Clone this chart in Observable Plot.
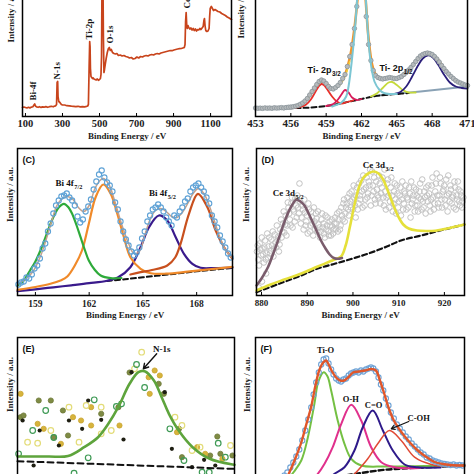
<!DOCTYPE html>
<html>
<head>
<meta charset="utf-8">
<script src="https://cdn.jsdelivr.net/npm/d3@7"></script>
<script src="https://cdn.jsdelivr.net/npm/@observablehq/plot@0.6"></script>
<style>
  html, body { margin: 0; padding: 0; background: #fff; }
  #fig { position: relative; width: 474px; height: 474px; overflow: hidden; background: #fff; }
  #fig svg { position: absolute; overflow: visible; }
</style>
</head>
<body>
<div id="fig"></div>
<script>
// ---------- (A) survey spectrum ----------
const surveyTicks = [100, 300, 500, 700, 900, 1100];
const surveySpectrum = [
  [84,9],[92,9.5],[100,9],[108,8.5],[116,9.2],[124,8.6],[132,9.4],[140,9.8],[146,11.5],[150,12.5],[154,10.5],
  [160,9.6],[168,9.2],[176,9.8],[184,9.1],[192,9.6],[200,9.3],[210,9.9],[220,9.2],[230,9.8],[240,10.2],[250,9.7],
  [258,10.4],[262,10.5],[268,12],[271,34],[274,35],[276,20],[280,15],[286,14],[294,12],[300,11.5],[312,11.5],
  [324,10.8],[336,10.6],[348,10.3],[360,10.1],[372,9.8],[384,10.2],[396,9.6],[408,9.9],[420,9.7],[430,10.1],
  [436,10.5],[440,12],[444,50],[447,75],[449,70],[451,48],[454,40],[458,39],[462,38],[466,38.5],[470,37.5],
  [476,37],[482,36.5],[488,37.5],[494,36.2],[500,37],[505,38],[508,42],[511,60],[514,150],[518,150],[521,80],
  [524,44],[527,47],[531,52],[536,58],[542,64],[548,68],[553,69],[558,66],[564,67],[570,64],[578,63],[586,62.5],
  [594,63],[602,61],[612,61.5],[622,60.5],[632,61],[642,60],[652,59.5],[662,58.5],[672,59],[682,57.5],[692,58],
  [702,59.5],[712,58.5],[722,60],[732,59.5],[742,60.5],[752,61],[762,60.5],[772,61.5],[782,62],[792,61.5],
  [802,62.5],[812,63],[822,62.5],[832,63.5],[842,64],[852,64.5],[862,65],[872,65.5],[882,66],[892,65.8],
  [902,66.5],[912,67],[922,67.5],[932,67.8],[942,68],[950,68.5],[958,69],[962,72],[965,95],[968,104],[971,92],
  [974,88],[978,91],[982,89],[988,87.5],[994,88.5],[1000,86.5],[1006,88],[1012,86],[1018,87.5],[1024,85.5],
  [1030,87],[1036,86.5],[1042,88],[1048,87],[1054,88.5],[1060,90],[1064,96],[1067,98],[1070,91],[1074,86],
  [1080,85],[1086,85.5],[1092,88],[1095,100],[1098,108],[1104,110],[1110,108],[1116,106],[1124,107],[1132,106],
  [1140,105],[1150,104.5],[1160,103],[1170,102],[1180,101],[1190,99.5],[1200,98.5],[1213,97]
];
const surveyPeakLabels = [[143,16,"Bi-4f"],[273,37,"N-1s"],[446,77,"Ti-2p"],[559,73,"O-1s"],[973,108,"Ce-3d"]];

// ---------- (B) Ti 2p ----------
const tiTicks = [453, 456, 459, 462, 465, 468, 471];
const tiPoints = [
  [453.0,8.5],[453.2,8.2],[453.4,8.4],[453.6,8.1],[453.8,8.6],[454.0,8.3],[454.2,8.5],[454.4,8.2],[454.6,8.7],
  [454.8,8.4],[455.0,8.6],[455.2,8.9],[455.4,8.5],[455.6,9.0],[455.8,9.3],[456.0,9.5],[456.2,9.8],[456.4,10.3],
  [456.6,11],[456.8,12.2],[457.0,13.5],[457.2,15.5],[457.4,18],[457.6,21.5],[457.8,25],[458.0,28.5],[458.2,32],
  [458.4,35],[458.6,36.5],[458.8,35.5],[459.0,33],[459.2,30],[459.4,28],[459.6,27.5],[459.8,29],[460.0,31],
  [460.2,34],[460.4,38],[460.6,42],[460.8,50],[461.0,60],[461.2,72],[461.4,88],[461.6,110],[461.8,135],
  [462.0,160],[462.2,140],[462.4,100],[462.6,72],[462.8,56],[463.0,46],[463.2,41],[463.4,39],[463.6,38],
  [463.8,37.5],[464.0,38],[464.2,38.5],[464.4,39],[464.6,38.5],[464.8,38],[465.0,38],[465.2,39],[465.4,40],
  [465.6,42],[465.8,44],[466.0,46.5],[466.2,49],[466.4,52],[466.6,55],[466.8,58],[467.0,60.5],[467.2,62],
  [467.4,63],[467.6,63.5],[467.8,63],[468.0,62],[468.2,60],[468.4,57.5],[468.6,54.5],[468.8,51],[469.0,48],
  [469.2,45],[469.4,42.5],[469.6,40],[469.8,38],[470.0,36],[470.2,34.5],[470.4,33.5],[470.6,32.5],[470.8,31.5],[471.0,31]
];
const tiEnvelope = [
  [453,8.4],[454,8.4],[455,8.7],[456,9.4],[456.6,11],[457,13.5],[457.4,18],[457.8,25],[458.2,32],[458.5,35.5],
  [458.7,36],[459,33.5],[459.3,29.5],[459.6,28],[459.9,29.5],[460.2,33.5],[460.5,39],[460.8,49],[461.1,64],
  [461.4,88],[461.7,122],[462,160],[462.3,125],[462.6,78],[462.9,52],[463.2,42],[463.5,39],[463.8,38],
  [464.2,38.5],[464.6,39],[465,38.5],[465.4,40],[465.8,43.5],[466.2,49],[466.6,55],[467,60],[467.4,62.5],
  [467.7,63],[468,62],[468.4,58],[468.8,51.5],[469.2,45],[469.6,40],[470,36],[470.5,33],[471,31]
];
const tiEnvelopeInner = [
  [456.5,9.5],[457,12],[457.5,18],[458,27],[458.4,33],[458.7,34.5],[459,32],[459.4,28.5],[459.8,28.5],
  [460.2,32],[460.6,40],[461,55]
];
const tiMainPeak = [
  [459.5,10],[460.3,14],[460.7,20],[460.9,30],[461.2,58],[461.45,88],[461.7,130],[461.9,160],[462.05,172],
  [462.2,155],[462.45,100],[462.7,62],[462.9,45],[463.1,35],[463.5,27],[463.9,23.5],[464.5,22.5],[465,22.5]
];
const ti2p32 = [
  [456,8.3],[456.8,9.5],[457.3,12],[457.7,17],[458.1,25],[458.4,30.5],[458.6,32.5],[458.8,31.5],[459.1,27],
  [459.5,20],[459.9,15],[460.3,13],[460.8,14.5],[461.3,16]
];
const tiSatellite = [[459,10.5],[459.6,12.5],[460,17],[460.3,22],[460.6,26.5],[460.9,24],[461.2,19],[461.6,16.5],[462,17.5]];
const ti2p12 = [[462.8,20],[463.3,23],[463.8,28.5],[464.3,34],[464.6,34.5],[465,31.5],[465.5,26.5],[466,24],[466.6,24]];
const tiHighPeak = [
  [464.8,22.5],[465.3,24.5],[465.8,30],[466.3,40],[466.8,51],[467.2,58],[467.6,61],[468,59.5],[468.5,52],
  [469,42],[469.5,34],[470,30],[470.5,28.5],[471,28]
];
const tiBaseline = [[453,8],[455,8.2],[457,8.6],[458,9.2],[459,10.5],[460,12.5],[461,15],[462,17.5],[463,20],[464,21.5],[465,22.5],[466,23.5]];
const tiBackground = [[463,20.5],[465,22.8],[467,25],[469,27.5],[471,30]];
const tiLabels = [[457.42,46,"Ti- 2p","3/2"],[463.53,48,"Ti- 2p","1/2"]];

// ---------- (C) Bi 4f ----------
const biTicks = [159, 162, 165, 168];
const biPoints = [
  [158.05,11],[158.2,13],[158.35,14],[158.5,18],[158.65,17],[158.8,21],[158.95,27],[159.1,30],[159.25,37],
  [159.4,47],[159.55,52],[159.7,64],[159.85,72],[160.0,82],[160.15,90],[160.3,95],[160.45,99],[160.6,100],
  [160.75,102],[160.9,98],[161.05,95],[161.2,90],[161.35,79],[161.5,73],[161.65,76],[161.8,84],[161.95,89],
  [162.1,96],[162.25,106],[162.4,114],[162.55,121],[162.7,125],[162.85,118],[163.0,113],[163.15,110],
  [163.3,104],[163.45,93],[163.6,86],[163.75,74],[163.9,64],[164.05,56],[164.2,50],[164.35,44],[164.5,40],
  [164.65,43],[164.8,48],[164.95,57],[165.1,64],[165.25,74],[165.4,80],[165.55,86],[165.7,88],[165.85,91],
  [166.0,88],[166.15,84],[166.3,78],[166.45,74],[166.6,70],[166.75,80],[166.9,78],[167.05,84],[167.2,88],
  [167.35,94],[167.5,97],[167.65,104],[167.8,108],[167.95,110],[168.1,112],[168.25,108],[168.4,104],
  [168.55,98],[168.7,92],[168.85,80],[169.0,74],[169.15,68],[169.3,60],[169.45,54],[169.6,48],[169.75,42],[169.9,38]
];
const biEnvelope = [
  [158,12],[158.5,17],[158.9,25],[159.3,40],[159.6,56],[159.9,74],[160.2,90],[160.5,97],[160.8,99],[161.1,96],
  [161.4,88],[161.7,84],[162,90],[162.3,106],[162.6,115],[162.8,117],[163.1,111],[163.4,96],[163.8,72],
  [164.2,52],[164.5,42],[164.8,44],[165.1,60],[165.4,76],[165.7,85],[166,87],[166.3,84],[166.6,79],[166.9,78],
  [167.2,83],[167.5,92],[167.8,102],[168.1,107],[168.4,102],[168.7,90],[169,74],[169.3,58],[169.6,46],[170,37]
];
const bi4f72a = [
  [158,10],[158.35,15],[158.7,25],[159,34],[159.28,45],[159.6,60],[159.84,71.7],[160.1,82],[160.31,88.3],
  [160.59,91.7],[160.85,88],[161.05,81.7],[161.3,70],[161.52,58.3],[161.75,46],[161.98,35],[162.3,26],
  [162.64,20],[163.2,17.3],[163.8,17.5]
];
const bi4f72b = [
  [158,5.7],[159,8.5],[159.84,11.7],[160.4,15],[160.78,19],[161.2,30],[161.6,45],[161.98,71.7],[162.36,98.3],
  [162.79,111],[163.2,101.7],[163.57,81.7],[163.94,58.3],[164.3,38.3],[164.87,26.7],[165.43,22.3],[166.3,21.8],
  [167.5,23.8],[168.7,26.2],[170,28.6]
];
const bi4f52a = [
  [158,4.3],[159,6.2],[160,8.2],[161,10.2],[162,12.3],[163,14.8],[163.6,18],[164.3,28.3],[164.87,48.3],
  [165.34,68.3],[165.89,80],[166.36,75],[166.83,58.3],[167.29,41.7],[167.76,31.7],[168.22,27.7],[169,27.5],[170,28]
];
const bi4f52b = [
  [164.3,21],[164.87,23.3],[165.5,25.5],[166.36,30],[166.8,38],[167.1,51.7],[167.57,81.7],[168.07,101.7],
  [168.6,88.3],[169.06,65],[169.53,48.3],[170,36.7]
];
const biBaseline = [[163,14.6],[164,16.3],[165,18.2],[166,20.2],[167,22.2],[168,24.2],[169,26],[170,27.6]];
const biLabels = [[160.12,112,"Bi 4f","7/2"],[165.34,102,"Bi 4f","5/2"]];

// ---------- (D) Ce 3d ----------
const ceTicks = [880, 890, 900, 910, 920];
const cePoints = [
  [879.0,44],[879.3,36],[879.6,52],[879.9,40],[880.2,47],[880.5,33],[880.8,55],[881.1,42],[881.4,38],[881.7,58],
  [882.0,45],[882.3,50],[882.6,39],[882.9,61],[883.2,48],[883.5,55],[883.8,44],[884.1,66],[884.4,58],[884.7,72],
  [885.0,63],[885.3,80],[885.6,70],[885.9,88],[886.2,76],[886.5,92],[886.8,68],[887.1,84],[887.4,97],[887.7,78],
  [888.0,88],[888.3,112],[888.6,72],[888.9,90],[889.2,66],[889.5,83],[889.8,74],[890.1,62],[890.4,86],[890.7,70],
  [891.0,78],[891.3,60],[891.6,74],[891.9,82],[892.2,64],[892.5,71],[892.8,58],[893.1,76],[893.4,68],[893.7,62],
  [894.0,80],[894.3,70],[894.6,64],[894.9,74],[895.2,60],[895.5,69],[895.8,66],[896.1,78],[896.4,72],[896.7,64],
  [897.0,84],[897.3,70],[897.6,80],[897.9,92],[898.2,74],[898.5,88],[898.8,98],[899.1,80],[899.4,94],[899.7,104],
  [900.0,86],[900.3,98],[900.6,78],[900.9,108],[901.2,92],[901.5,100],[901.8,115],[902.1,88],[902.4,106],[902.7,96],
  [903.0,118],[903.3,102],[903.6,110],[903.9,90],[904.2,124],[904.5,104],[904.8,96],[905.1,114],[905.4,100],[905.7,120],
  [906.0,92],[906.3,108],[906.6,98],[906.9,126],[907.2,86],[907.5,112],[907.8,100],[908.1,94],[908.4,118],[908.7,84],
  [909.0,104],[909.3,96],[909.6,110],[909.9,88],[910.2,100],[910.5,80],[910.8,114],[911.1,92],[911.4,102],[911.7,86],
  [912.0,96],[912.3,108],[912.6,78],[912.9,92],[913.2,100],[913.5,84],[913.8,106],[914.1,90],[914.4,98],[914.7,112],
  [915.0,86],[915.3,94],[915.6,104],[915.9,82],[916.2,100],[916.5,110],[916.8,90],[917.1,96],[917.4,118],[917.7,86],
  [918.0,104],[918.3,122],[918.6,92],[918.9,100],[919.2,112],[919.5,88],[919.8,106],[920.1,96],[920.4,116],[920.7,84],
  [921.0,102],[921.3,110],[921.6,92],[921.9,100],[922.2,114],[922.5,86],[922.8,96],[923.1,106],[923.4,90],[923.7,100],[924.0,94]
];
const cePointsRepeat = [
  [879.15,50],[879.45,30],[879.75,46],[880.05,58],[880.35,41],[880.65,48],[880.95,36],[881.25,62],[881.55,49],[881.85,42],
  [882.15,56],[882.45,64],[882.75,47],[883.05,53],[883.35,70],[883.65,59],[883.95,51],[884.25,76],[884.55,64],[884.85,84],
  [885.15,71],[885.45,60],[885.75,93],[886.05,82],[886.35,70],[886.65,98],[886.95,86],[887.25,74],[887.55,90],[887.85,100],
  [888.15,82],[888.45,94],[888.75,78],[889.05,86],[889.35,96],[889.65,70],[889.95,80],[890.25,92],[890.55,64],[890.85,84],
  [891.15,72],[891.45,88],[891.75,66],[892.05,77],[892.35,84],[892.65,68],[892.95,64],[893.25,82],[893.55,72],[893.85,58],
  [894.15,66],[894.45,78],[894.75,60],[895.05,70],[895.35,76],[895.65,62],[895.95,72],[896.25,66],[896.55,82],[896.85,76],
  [897.15,66],[897.45,88],[897.75,76],[898.05,96],[898.35,82],[898.65,92],[898.95,86],[899.25,102],[899.55,88],[899.85,96],
  [900.15,110],[900.45,90],[900.75,100],[901.05,86],[901.35,112],[901.65,96],[901.95,104],[902.25,120],[902.55,90],[902.85,108],
  [903.15,98],[903.45,114],[903.75,126],[904.05,100],[904.35,110],[904.65,118],[904.95,92],[905.25,106],[905.55,98],[905.85,112],
  [906.15,102],[906.45,118],[906.75,90],[907.05,104],[907.35,98],[907.65,116],[907.95,88],[908.25,108],[908.55,100],[908.85,92],
  [909.15,112],[909.45,82],[909.75,102],[910.05,94],[910.35,108],[910.65,96],[910.95,86],[911.25,104],[911.55,110],[911.85,98],
  [912.15,88],[912.45,102],[912.75,114],[913.05,96],[913.35,108],[913.65,90],[913.95,100],[914.25,84],[914.55,104],[914.85,96],
  [915.15,116],[915.45,88],[915.75,98],[916.05,108],[916.35,94],[916.65,102],[916.95,84],[917.25,110],[917.55,98],[917.85,92],
  [918.15,112],[918.45,100],[918.75,88],[919.05,118],[919.35,96],[919.65,104],[919.95,110],[920.25,90],[920.55,100],[920.85,120],
  [921.15,94],[921.45,106],[921.75,98],[922.05,88],[922.35,108],[922.65,100],[922.95,114],[923.25,94],[923.55,104],[923.85,88],[924.15,98],
  [879.4,8],[880.1,14],[881.0,22]
];
const ce3d32 = [
  [878.9,5],[882,11],[885,16],[888.7,22],[892.3,29],[895.5,35],[897.4,39],[898.4,50],[899.3,68],[900.3,90],
  [901.3,108],[902.3,118],[903.5,122.5],[904.6,124],[905.6,122],[906.6,116],[907.6,105],[908.7,92],[909.8,80],
  [911,71],[912.2,67],[914,65],[916,64.5],[918,64.8],[920,66.5],[922,68.5],[924.4,71]
];
const ce3d52 = [
  [878.9,10],[880,17],[881.4,28.3],[882.5,41],[883.6,55],[884.5,67],[885.4,78.3],[886.5,89],[887.6,95.7],
  [888.5,94],[889.4,90],[890.3,82],[891.2,73.3],[892.1,64],[893,55],[894,47],[894.9,41],[895.8,37.5],[896.7,36.7],[897.6,37.5]
];
const ceBaseline = [[878.9,3.3],[884,12],[888.7,20],[892,26.5],[896,31.7],[899.6,36.5],[903.2,41.7],[906.9,48],[910.5,55],[914.9,60],[919.5,65.5],[924.4,71]];
const ceLabels = [[882.47,102,"Ce 3d","5/2"],[902.15,130,"Ce 3d","3/2"]];

// ---------- (E) N 1s ----------
const nHollowGreen = [
  [393.07,22.7],[393.98,46],[394.82,66],[395.34,39],[397.56,18.7],[396.65,3.3],[397.95,76.7],[399.38,70],
  [399.71,72.7],[400.68,112],[401.2,89],[402.83,47.7],[403.74,16],[404.91,4.3],[405.37,4.3],[405.95,33.3],[406.41,19.3]
];
const nHollowYellow = [
  [393.65,34.3],[394.3,33.3],[395.15,46],[396.32,69.3],[396.97,34.3],[397.43,71],[398.4,42.7],[398.4,69.3],
  [399.05,46],[400.55,107.7],[401.01,124.3],[403.16,59.3],[403.61,51],[404.26,26],[404.78,29.3],[406.74,31]
];
const nOlive = [
  [393.2,59.3],[393.39,61],[394.37,76],[395.15,76],[395.93,66],[395.34,39.3],[396.26,41],[398.4,62.7],
  [399.51,69.3],[400.23,104],[402.11,92.7],[402.44,82.7],[403.42,47.7],[403.61,19.3],[405.43,21],[405.89,40],[406.09,22.7],[406.87,21]
];
const nGold = [
  [393.2,82.7],[394.3,52.7],[394.69,47.7],[395.8,32.7],[396.58,59.3],[397.1,56],[397.75,69.3],[397.75,51],
  [399.58,51],[401.46,99.3],[401.53,82.7],[401.85,106],[402.18,101],[403.29,44.3],[404.59,29.3],[405.11,22.7],[406.22,17.7]
];
const nBlack = [
  [393.33,56],[394.04,11],[394.43,46],[395.67,31],[396.32,56],[397.17,47.7],[397.56,76],[398.4,56.7],
  [399.84,37],[400.36,104.3],[402.5,84.3],[402.96,27.7],[404.26,9.3],[405.04,16.7],[405.76,11]
];
const nFit = [
  [393,20],[395,20],[396.26,20.5],[397.3,29.3],[398.2,39.3],[398.86,52.7],[399.5,69.3],[400.23,92.7],
  [400.8,104.3],[401.2,105.3],[401.8,96],[402.3,79.3],[402.77,62.7],[403.4,46],[404.3,29.3],[405.4,17.7],[406.9,12],[407,11.8]
];
const nBaseline = [[393,15.3],[400,11.5],[407,7.6]];
const nLabel = [[402.31,127.5,"N-1s"]];
const nArrow = [{x1: 401.98, y1: 122.7, x2: 401.12, y2: 107.7}];

// ---------- (F) O 1s ----------
const oPoints = [
  [527.95,1],[528.1,4],[528.25,9],[528.4,14],[528.55,20],[528.7,27],[528.85,36],[529.0,46],[529.15,57],[529.3,69],
  [529.42,82],[529.55,94],[529.68,104],[529.8,112],[529.92,117],[530.05,118],[530.17,113],[530.3,107],[530.42,102],
  [530.55,98],[530.68,96],[530.8,95],[530.92,97],[531.05,98],[531.18,101],[531.3,103],[531.42,104],[531.55,105],
  [531.68,104],[531.8,106],[531.92,105],[532.05,107],[532.18,108],[532.3,109],[532.42,108],[532.55,105],[532.68,99],
  [532.8,92],[532.92,86],[533.05,78],[533.18,71],[533.3,64],[533.45,58],[533.6,52],[533.75,48],[533.9,44],[534.05,40],
  [534.2,37],[534.35,33],[534.5,30],[534.65,27],[534.8,24],[534.95,22],[535.1,19],[535.25,18],[535.4,16],[535.55,15],
  [535.7,14],[535.85,13],[536.0,12.5],[536.15,12],[536.3,11.5],[536.45,12],[536.6,11],[536.75,11.5],[536.9,11]
];
const oEnvelope = [
  [527.9,-8],[528.2,4],[528.5,18],[528.8,34],[529.05,52],[529.3,70],[529.5,90],[529.7,106],[529.9,114],[530.05,116],
  [530.2,111],[530.35,105],[530.55,99],[530.75,96],[530.95,96],[531.2,100],[531.4,104],[531.7,105],[532,106],
  [532.3,107.5],[532.55,106],[532.75,96],[532.95,84],[533.2,68],[533.45,56],[533.7,48],[534,40],[534.3,33],
  [534.6,27],[534.9,22],[535.2,18],[535.5,14.5],[535.9,12.5],[536.3,11.5],[537,11]
];
const oTiO = [
  [528,-6],[528.4,4],[528.8,16],[529.13,39],[529.46,72.7],[529.66,95],[529.93,104.3],[530.12,100],[530.3,86],
  [530.63,56],[530.97,32.7],[531.31,17.7],[531.81,11],[532.98,10],[535,10.5],[537,11]
];
const oOH = [
  [529.3,-4],[529.63,2.7],[529.97,12.7],[530.38,29.3],[530.81,52.7],[531.31,71.7],[531.81,56],[532.31,29.3],
  [532.82,14.3],[533.48,9.3],[534.79,8.5]
];
const oCO = [
  [530.1,-4],[530.47,2.7],[530.97,9.3],[531.47,26],[531.89,49.3],[532.39,66],[532.9,46],[533.4,26],[533.99,12],
  [534.65,9.3],[535.8,9]
];
const oCOH = [
  [531.2,-3],[531.64,6],[532.14,17.7],[532.64,32.7],[533.23,46],[533.82,36],[534.49,19.3],[535.33,12],[536.16,10],[537,10.5]
];
const oBaseline = [[529.5,-3],[531.31,2],[532.98,6.7],[534.65,8.7],[537,11]];
const oLabels = [[530.02,126,"Ti-O"],[531.29,77,"O-H"],[532.43,71,"C=O"]];
const oSideLabel = [[534.14,58,"C-OH"]];
const oArrow = [{x1: 534.2, y1: 55, x2: 533.32, y2: 47.7}];

// ---------- drawing ----------
const fig = document.getElementById("fig");
const SERIF = "Liberation Serif";
const SANS = "Liberation Sans";
const ctx = document.createElement("canvas").getContext("2d");
function measure(s, size, family) {
  ctx.font = `bold ${size}px "${family}"`;
  return ctx.measureText(s).width;
}
const X = d => d[0], Y = d => d[1];

function curve(data, stroke, strokeWidth = 2, extra = {}) {
  return Plot.line(data, {x: X, y: Y, stroke, strokeWidth, curve: "catmull-rom", ...extra});
}
function dashed(data, strokeWidth = 2) {
  return Plot.line(data, {x: X, y: Y, stroke: "#111", strokeWidth, strokeDasharray: "5,3", curve: "catmull-rom"});
}
function subLabels(rows, family, size) {
  return rows.flatMap(r => [
    Plot.text([r], {x: X, y: Y, text: d => d[2], textAnchor: "start", fontFamily: family, fontWeight: "bold", fontSize: size, fill: "#111"}),
    Plot.text([r], {x: X, y: Y, text: d => d[3], textAnchor: "start", fontFamily: family, fontWeight: "bold",
      fontSize: size * 0.7, fill: "#111", dx: measure(r[2], size, family) + 0.5, dy: size * 0.35})
  ]);
}
function plainLabels(rows, family, size, extra = {}) {
  return Plot.text(rows, {x: X, y: Y, text: d => d[2], fontFamily: family, fontWeight: "bold", fontSize: size, fill: "#111", ...extra});
}

function panel({box, xDomain, yDomain, ticks, tickFont, tickDy, letter, yLabelDx, marks}) {
  const [L, T, R, B] = box;
  const mL = 30, mR = 10, mT = 6, mB = 34;
  const h = B - T;
  const deco = [Plot.frame({stroke: "#000", strokeWidth: 1.5})];
  if (ticks) {
    deco.push(
      Plot.tickX(ticks, {x: d => d, insetTop: h - 3, stroke: "#000", strokeWidth: 1}),
      Plot.text(ticks, {x: d => d, text: d => String(d), frameAnchor: "bottom", dy: tickDy,
        fontFamily: SERIF, fontWeight: "bold", fontSize: tickFont, fill: "#222"}),
      Plot.text(["Binding Energy / eV"], {text: d => d, frameAnchor: "bottom", dy: 22,
        fontFamily: SERIF, fontWeight: "bold", fontSize: 9, fill: "#222"})
    );
  }
  if (letter) {
    deco.push(Plot.text([letter], {text: d => d, frameAnchor: "top-left", textAnchor: "start", dx: 5, dy: 8,
      fontFamily: SANS, fontWeight: "bold", fontSize: 9, fill: "#111"}));
  }
  deco.push(Plot.text(["Intensity / a.u."], {text: d => d, frameAnchor: "left", rotate: -90, dx: yLabelDx,
    fontFamily: SERIF, fontWeight: "bold", fontSize: 9, fill: "#222"}));

  const svg = Plot.plot({
    width: R - L + mL + mR,
    height: h + mT + mB,
    marginLeft: mL, marginRight: mR, marginTop: mT, marginBottom: mB,
    x: {domain: xDomain, axis: null},
    y: {domain: yDomain, axis: null},
    style: {background: "transparent", overflow: "visible"},
    marks: [...marks, ...deco]
  });
  svg.style.left = (L - mL) + "px";
  svg.style.top = (T - mT) + "px";
  fig.appendChild(svg);
}

// (A) survey
panel({
  box: [22, -32, 231, 116], xDomain: [84, 1213], yDomain: [0, 148],
  ticks: surveyTicks, tickFont: 10.5, tickDy: 10.3, yLabelDx: -11,
  marks: [
    Plot.line(surveySpectrum, {x: X, y: Y, stroke: "#c8441c", strokeWidth: 1.7}),
    plainLabels(surveyPeakLabels, SERIF, 9, {rotate: -90, textAnchor: "start"})
  ]
});

// (B) Ti 2p
panel({
  box: [255, -40, 467, 116], xDomain: [453, 471], yDomain: [0, 156],
  ticks: tiTicks, tickFont: 11, tickDy: 10.3, yLabelDx: -14,
  marks: [
    Plot.line(tiBackground, {x: X, y: Y, stroke: "#8aa2b5", strokeWidth: 1.8}),
    dashed(tiBaseline, 2),
    curve(ti2p32, "#e8302a", 1.8),
    curve(tiSatellite, "#d81b5a", 1.8),
    curve(ti2p12, "#c5d93a", 1.8),
    curve(tiHighPeak, "#2b1f7a", 1.8),
    curve(tiEnvelope, "#f0952e", 2.6),
    curve(tiEnvelopeInner, "#f2d43a", 1.4),
    Plot.dot(tiPoints, {x: X, y: Y, r: 2.2, fill: "#b6babc", stroke: "#8e989e", strokeWidth: 0.9}),
    curve(tiMainPeak, "#7cc6d3", 2, {clip: true}),
    ...subLabels(tiLabels, SANS, 9)
  ]
});

// (C) Bi 4f
panel({
  box: [17, 148, 232, 295], xDomain: [158, 170], yDomain: [0, 147],
  ticks: biTicks, tickFont: 9.5, tickDy: 11.7, letter: "(C)", yLabelDx: -7.5,
  marks: [
    dashed(biBaseline, 2),
    curve(bi4f52a, "#3a1a8c", 2.2),
    curve(bi4f72b, "#f08a2a", 2.2),
    curve(bi4f72a, "#2eaa3a", 2.2),
    curve(bi4f52b, "#c8501e", 2.2),
    curve(biEnvelope, "#c4a08c", 1.5),
    Plot.dot(biPoints, {x: X, y: Y, r: 2.6, fill: "none", stroke: "#5fa2d6", strokeWidth: 1.1}),
    ...subLabels(biLabels, SERIF, 9)
  ]
});

// (D) Ce 3d
panel({
  box: [256, 148, 464, 295], xDomain: [878.9, 924.4], yDomain: [0, 147],
  ticks: ceTicks, tickFont: 9, tickDy: 10, letter: "(D)", yLabelDx: -10,
  marks: [
    Plot.dot(cePoints, {x: X, y: Y, r: 2.8, fill: "none", stroke: "#c2c2c2", strokeWidth: 1}),
    Plot.dot(cePointsRepeat, {x: X, y: Y, r: 2.8, fill: "none", stroke: "#c2c2c2", strokeWidth: 1}),
    Plot.line(ceBaseline, {x: X, y: Y, stroke: "#111", strokeWidth: 2.2, strokeDasharray: "5,3", curve: "catmull-rom"}),
    curve(ce3d32, "#e5e03a", 2.6),
    curve(ce3d52, "#7a5c6c", 2.6),
    ...subLabels(ceLabels, SERIF, 9)
  ]
});

// (E) N 1s
panel({
  box: [17, 337, 234, 486], xDomain: [393, 407], yDomain: [-10, 139],
  letter: "(E)", yLabelDx: -7,
  marks: [
    Plot.dot(nOlive, {x: X, y: Y, r: 2.6, fill: "#7f8b44", stroke: "#6f7a3a", strokeWidth: 0.8}),
    Plot.dot(nGold, {x: X, y: Y, r: 2.6, fill: "#d7b43c", stroke: "#c9a532", strokeWidth: 0.8}),
    Plot.dot(nHollowYellow, {x: X, y: Y, r: 2.8, fill: "none", stroke: "#e3dc78", strokeWidth: 1.2}),
    Plot.dot(nHollowGreen, {x: X, y: Y, r: 2.8, fill: "none", stroke: "#3f9a55", strokeWidth: 1.2}),
    Plot.dot(nBlack, {x: X, y: Y, r: 2.1, fill: "#1e1e12"}),
    Plot.line(nBaseline, {x: X, y: Y, stroke: "#111", strokeWidth: 2, strokeDasharray: "6,4"}),
    curve(nFit, "#5ea43c", 2.6),
    Plot.arrow(nArrow, {x1: "x1", y1: "y1", x2: "x2", y2: "y2", stroke: "#111", strokeWidth: 1.4, headLength: 6}),
    plainLabels(nLabel, SERIF, 9)
  ]
});

// (F) O 1s
panel({
  box: [255, 337, 464, 486], xDomain: [526.5, 537], yDomain: [-10, 139],
  letter: "(F)", yLabelDx: -8.5,
  marks: [
    dashed(oBaseline, 2.4),
    curve(oTiO, "#74c043", 2),
    curve(oOH, "#e0308c", 2),
    curve(oCO, "#2e1a8a", 2),
    curve(oCOH, "#e04a36", 1.5),
    Plot.dot(oPoints, {x: X, y: Y, r: 2.6, fill: "none", stroke: "#6fa3d6", strokeWidth: 1.1}),
    curve(oEnvelope, "#e0562a", 2.4),
    Plot.arrow(oArrow, {x1: "x1", y1: "y1", x2: "x2", y2: "y2", stroke: "#111", strokeWidth: 1.2, headLength: 5}),
    plainLabels(oLabels, SERIF, 8.5),
    plainLabels(oSideLabel, SERIF, 8.5, {textAnchor: "start"})
  ]
});
</script>
</body>
</html>
